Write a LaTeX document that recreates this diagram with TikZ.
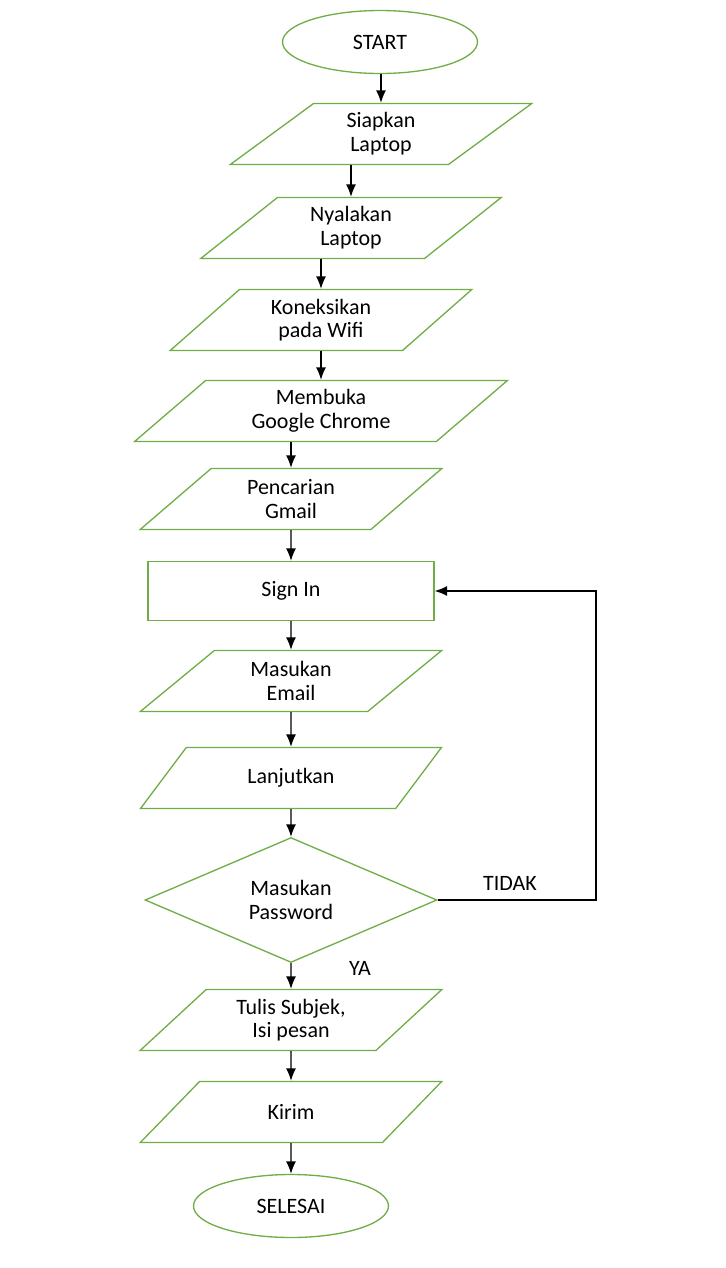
\documentclass[tikz,border=0pt]{standalone}
\usepackage{fontspec}
\setmainfont{Carlito}
\usetikzlibrary{shapes.geometric, arrows.meta}
\definecolor{flowgreen}{RGB}{112,173,71}
\tikzset{
  io/.style={trapezium, trapezium left angle=45, trapezium right angle=135, trapezium stretches=true,
    minimum width=6.04cm, minimum height=1.22cm, draw=flowgreen, align=center, inner sep=0pt},
  term/.style={ellipse, draw=flowgreen, minimum width=3.9cm, minimum height=1.26cm},
  arr/.style={-{Latex[length=2.5mm,width=2mm]}, black}
}
\begin{document}
\begin{tikzpicture}[x=0.02cm, y=-0.02cm, line width=0.75pt, font=\fontsize{12.5}{13.5}\selectfont]
\useasboundingbox (0,0) rectangle (726,1268);
\node (start) [term] at (380,42) {START};
\node (siap) [io] at (381,134) {Siapkan\\Laptop};
\node (nyala) [io] at (351,228) {Nyalakan\\Laptop};
\node (wifi) [io] at (321,320) {Koneksikan\\pada Wifi};
\node (chrome) [io, minimum width=7.46cm] at (321,411) {Membuka\\Google Chrome};
\node (cari) [io] at (291,499) {Pencarian\\Gmail};
\node (sign) [rectangle, draw=flowgreen, minimum width=5.72cm, minimum height=1.18cm] at (291,591) {Sign In};
\node (email) [io] at (291,681) {Masukan\\Email};
\node (lanjut) [io] at (291,778) {Lanjutkan};
\node (pass) [diamond, draw=flowgreen, minimum width=5.84cm, minimum height=2.5cm, inner sep=0pt, align=center] at (291,900) {Masukan\\Password};
\node (tulis) [io] at (291,1020) {Tulis Subjek,\\Isi pesan};
\node (kirim) [io] at (291,1112) {Kirim};
\node (selesai) [term] at (291,1206) {SELESAI};
\coordinate (loop) at (596,900);
\draw[arr] (start.south -| siap.north) -- (siap.north);
\draw[arr] (siap.south -| nyala.north) -- (nyala.north);
\draw[arr] (nyala.south -| wifi.north) -- (wifi.north);
\draw[arr] (wifi.south -| chrome.north) -- (chrome.north);
\draw[arr] (chrome.south -| cari.north) -- (cari.north);
\draw[arr] (cari.south) -- (sign.north);
\draw[arr] (sign.south) -- (email.north);
\draw[arr] (email.south) -- (lanjut.north);
\draw[arr] (lanjut.south) -- (pass.north);
\draw[arr] (pass.south) -- (tulis.north);
\draw[arr] (tulis.south) -- (kirim.north);
\draw[arr] (kirim.south) -- (selesai.north);
\draw[arr] (pass.east) -- (loop) |- (sign.east);
\node (tidak) at (510,883) {TIDAK};
\node (ya) at (360,968) {YA};
\end{tikzpicture}
\end{document}
